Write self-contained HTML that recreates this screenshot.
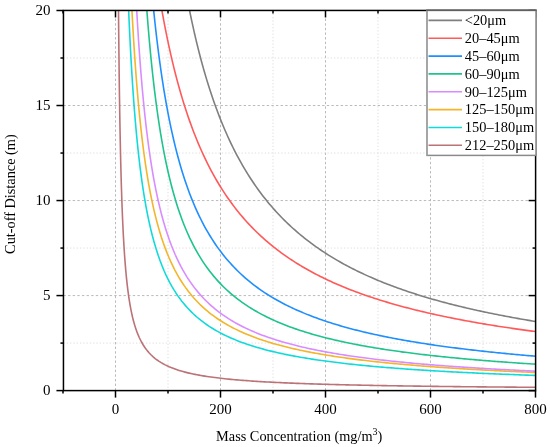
<!DOCTYPE html>
<html><head><meta charset="utf-8"><style>
html,body{margin:0;padding:0;background:#fff;}
svg{display:block;}
text{font-family:"Liberation Serif","Times New Roman",serif;fill:#000;}
</style></head><body>
<svg width="550" height="447" viewBox="0 0 550 447">
<rect width="550" height="447" fill="#fff"/>

<line x1="115.50" y1="390.6" x2="115.50" y2="10.45" stroke="#bababa" stroke-width="1" stroke-dasharray="2.4,2.22"/>
<line x1="220.50" y1="390.6" x2="220.50" y2="10.45" stroke="#bababa" stroke-width="1" stroke-dasharray="2.4,2.22"/>
<line x1="325.50" y1="390.6" x2="325.50" y2="10.45" stroke="#bababa" stroke-width="1" stroke-dasharray="2.4,2.22"/>
<line x1="430.50" y1="390.6" x2="430.50" y2="10.45" stroke="#bababa" stroke-width="1" stroke-dasharray="2.4,2.22"/>
<line x1="168.00" y1="10.45" x2="168.00" y2="390.6" stroke="#dedede" stroke-width="1" stroke-dasharray="1.3,2.0"/>
<line x1="273.00" y1="10.45" x2="273.00" y2="390.6" stroke="#dedede" stroke-width="1" stroke-dasharray="1.3,2.0"/>
<line x1="378.00" y1="10.45" x2="378.00" y2="390.6" stroke="#dedede" stroke-width="1" stroke-dasharray="1.3,2.0"/>
<line x1="483.00" y1="10.45" x2="483.00" y2="390.6" stroke="#dedede" stroke-width="1" stroke-dasharray="1.3,2.0"/>
<line x1="63.45" y1="295.58" x2="535.6" y2="295.58" stroke="#bababa" stroke-width="1" stroke-dasharray="2.4,2.22"/>
<line x1="63.45" y1="200.55" x2="535.6" y2="200.55" stroke="#bababa" stroke-width="1" stroke-dasharray="2.4,2.22"/>
<line x1="63.45" y1="105.52" x2="535.6" y2="105.52" stroke="#bababa" stroke-width="1" stroke-dasharray="2.4,2.22"/>
<line x1="63.45" y1="343.09" x2="535.6" y2="343.09" stroke="#dedede" stroke-width="1" stroke-dasharray="1.3,2.0"/>
<line x1="63.45" y1="248.06" x2="535.6" y2="248.06" stroke="#dedede" stroke-width="1" stroke-dasharray="1.3,2.0"/>
<line x1="63.45" y1="153.04" x2="535.6" y2="153.04" stroke="#dedede" stroke-width="1" stroke-dasharray="1.3,2.0"/>
<line x1="63.45" y1="58.01" x2="535.6" y2="58.01" stroke="#dedede" stroke-width="1" stroke-dasharray="1.3,2.0"/>
<clipPath id="c"><rect x="63.45" y="10.45" width="472.15000000000003" height="380.15000000000003"/></clipPath>
<g clip-path="url(#c)" fill="none" stroke-width="1.6" stroke-linejoin="round">
<path d="M118.40,-0.90 L118.66,28.42 L118.93,53.65 L119.19,75.60 L119.45,94.86 L119.72,111.89 L119.98,127.08 L120.25,140.69 L120.51,152.96 L120.77,164.08 L121.04,174.21 L121.30,183.47 L121.57,191.97 L121.83,199.80 L122.09,207.03 L122.36,213.73 L122.62,219.97 L122.89,225.77 L123.15,231.20 L123.41,236.27 L123.68,241.04 L123.94,245.52 L124.21,249.73 L124.47,253.71 L124.73,257.47 L125.00,261.03 L125.26,264.40 L125.53,267.60 L125.79,270.65 L126.05,273.54 L126.32,276.30 L126.58,278.93 L126.85,281.45 L127.11,283.85 L127.37,286.15 L127.64,288.35 L127.90,290.46 L128.17,292.48 L128.43,294.43 L128.69,296.29 L128.96,298.09 L129.22,299.82 L129.49,301.49 L129.75,303.09 L130.01,304.64 L130.28,306.14 L130.54,307.58 L130.81,308.97 L131.07,310.32 L131.33,311.63 L131.60,312.89 L131.86,314.11 L132.13,315.30 L132.39,316.45 L132.65,317.56 L132.92,318.64 L133.18,319.69 L133.45,320.71 L133.71,321.70 L133.97,322.66 L134.24,323.60 L134.50,324.51 L134.77,325.39 L135.03,326.26 L135.29,327.10 L135.56,327.91 L135.82,328.71 L136.09,329.49 L136.35,330.25 L136.61,330.99 L136.88,331.71 L137.14,332.41 L137.41,333.10 L137.67,333.77 L137.93,334.42 L138.20,335.06 L138.46,335.69 L138.73,336.30 L138.99,336.90 L139.25,337.48 L141.24,341.52 L143.24,344.98 L145.23,347.98 L147.22,350.61 L149.21,352.94 L151.20,355.00 L153.19,356.85 L155.18,358.52 L157.17,360.03 L159.17,361.40 L161.16,362.65 L163.15,363.80 L165.14,364.86 L167.13,365.83 L169.12,366.74 L171.11,367.58 L173.10,368.36 L175.09,369.09 L177.09,369.78 L179.08,370.42 L181.07,371.02 L183.06,371.59 L185.05,372.12 L187.04,372.62 L189.03,373.10 L191.02,373.56 L193.02,373.99 L195.01,374.39 L197.00,374.78 L198.99,375.15 L200.98,375.50 L202.97,375.84 L204.96,376.16 L206.95,376.47 L208.95,376.77 L210.94,377.05 L212.93,377.32 L214.92,377.58 L216.91,377.83 L218.90,378.07 L220.89,378.30 L222.88,378.52 L224.87,378.74 L226.87,378.95 L228.86,379.14 L230.85,379.34 L232.84,379.52 L234.83,379.70 L236.82,379.88 L238.81,380.05 L240.80,380.21 L242.80,380.37 L244.79,380.52 L246.78,380.67 L248.77,380.82 L250.76,380.96 L252.75,381.09 L254.74,381.22 L256.73,381.35 L258.72,381.48 L260.72,381.60 L262.71,381.72 L264.70,381.83 L266.69,381.94 L268.68,382.05 L270.67,382.16 L272.66,382.26 L274.65,382.36 L276.65,382.46 L278.64,382.56 L280.63,382.65 L282.62,382.74 L284.61,382.83 L286.60,382.92 L288.59,383.01 L290.58,383.09 L292.57,383.17 L294.57,383.25 L296.56,383.33 L298.55,383.41 L300.54,383.48 L302.53,383.55 L304.52,383.62 L306.51,383.69 L308.50,383.76 L310.50,383.83 L312.49,383.90 L314.48,383.96 L316.47,384.02 L318.46,384.09 L320.45,384.15 L322.44,384.21 L324.43,384.26 L326.43,384.32 L328.42,384.38 L330.41,384.43 L332.40,384.49 L334.39,384.54 L336.38,384.59 L338.37,384.65 L340.36,384.70 L342.35,384.75 L344.35,384.79 L346.34,384.84 L348.33,384.89 L350.32,384.94 L352.31,384.98 L354.30,385.03 L356.29,385.07 L358.28,385.11 L360.28,385.16 L362.27,385.20 L364.26,385.24 L366.25,385.28 L368.24,385.32 L370.23,385.36 L372.22,385.40 L374.21,385.44 L376.20,385.47 L378.20,385.51 L380.19,385.55 L382.18,385.58 L384.17,385.62 L386.16,385.65 L388.15,385.69 L390.14,385.72 L392.13,385.75 L394.13,385.79 L396.12,385.82 L398.11,385.85 L400.10,385.88 L402.09,385.91 L404.08,385.94 L406.07,385.97 L408.06,386.00 L410.06,386.03 L412.05,386.06 L414.04,386.09 L416.03,386.12 L418.02,386.15 L420.01,386.17 L422.00,386.20 L423.99,386.23 L425.98,386.25 L427.98,386.28 L429.97,386.31 L431.96,386.33 L433.95,386.36 L435.94,386.38 L437.93,386.41 L439.92,386.43 L441.91,386.45 L443.91,386.48 L445.90,386.50 L447.89,386.52 L449.88,386.55 L451.87,386.57 L453.86,386.59 L455.85,386.61 L457.84,386.64 L459.83,386.66 L461.83,386.68 L463.82,386.70 L465.81,386.72 L467.80,386.74 L469.79,386.76 L471.78,386.78 L473.77,386.80 L475.76,386.82 L477.76,386.84 L479.75,386.86 L481.74,386.88 L483.73,386.90 L485.72,386.92 L487.71,386.93 L489.70,386.95 L491.69,386.97 L493.69,386.99 L495.68,387.01 L497.67,387.02 L499.66,387.04 L501.65,387.06 L503.64,387.07 L505.63,387.09 L507.62,387.11 L509.61,387.12 L511.61,387.14 L513.60,387.16 L515.59,387.17 L517.58,387.19 L519.57,387.20 L521.56,387.22 L523.55,387.23 L525.54,387.25 L527.54,387.26 L529.53,387.28 L531.52,387.29 L533.51,387.31 L535.50,387.32" stroke="#bb7377"/>
<path d="M128.17,-0.90 L128.43,5.38 L128.69,11.47 L128.95,17.37 L129.20,23.09 L129.46,28.63 L129.72,34.01 L129.98,39.23 L130.23,44.30 L130.49,49.23 L130.75,54.01 L131.01,58.67 L131.27,63.20 L131.52,67.60 L131.78,71.89 L132.04,76.07 L132.30,80.13 L132.55,84.10 L132.81,87.96 L133.07,91.73 L133.33,95.40 L133.59,98.99 L133.84,102.48 L134.10,105.90 L134.36,109.23 L134.62,112.49 L134.87,115.68 L135.13,118.79 L135.39,121.83 L135.65,124.80 L135.91,127.71 L136.16,130.55 L136.42,133.34 L136.68,136.06 L136.94,138.73 L137.19,141.34 L137.45,143.90 L137.71,146.41 L137.97,148.87 L138.23,151.27 L138.48,153.63 L138.74,155.94 L139.00,158.21 L139.26,160.44 L139.52,162.62 L139.77,164.76 L140.03,166.86 L140.29,168.93 L140.55,170.95 L140.80,172.94 L141.06,174.89 L141.32,176.81 L141.58,178.69 L141.84,180.54 L142.09,182.36 L142.35,184.15 L142.61,185.91 L142.87,187.63 L143.12,189.33 L143.38,191.00 L143.64,192.64 L143.90,194.26 L144.16,195.85 L144.41,197.41 L144.67,198.95 L144.93,200.46 L145.19,201.95 L145.44,203.42 L145.70,204.86 L145.96,206.29 L146.22,207.69 L146.48,209.07 L146.73,210.42 L146.99,211.76 L147.25,213.08 L147.51,214.38 L147.76,215.66 L148.02,216.92 L148.28,218.17 L148.54,219.39 L150.48,228.10 L152.43,235.97 L154.37,243.10 L156.32,249.61 L158.26,255.56 L160.21,261.03 L162.15,266.07 L164.09,270.73 L166.04,275.05 L167.98,279.07 L169.93,282.82 L171.87,286.33 L173.82,289.61 L175.76,292.69 L177.71,295.59 L179.65,298.32 L181.60,300.89 L183.54,303.33 L185.48,305.63 L187.43,307.82 L189.37,309.90 L191.32,311.87 L193.26,313.75 L195.21,315.54 L197.15,317.25 L199.10,318.88 L201.04,320.44 L202.99,321.93 L204.93,323.36 L206.87,324.73 L208.82,326.05 L210.76,327.31 L212.71,328.53 L214.65,329.70 L216.60,330.82 L218.54,331.91 L220.49,332.95 L222.43,333.96 L224.37,334.93 L226.32,335.87 L228.26,336.78 L230.21,337.66 L232.15,338.51 L234.10,339.33 L236.04,340.13 L237.99,340.90 L239.93,341.65 L241.88,342.38 L243.82,343.08 L245.76,343.76 L247.71,344.43 L249.65,345.07 L251.60,345.70 L253.54,346.31 L255.49,346.91 L257.43,347.48 L259.38,348.05 L261.32,348.59 L263.27,349.13 L265.21,349.65 L267.15,350.15 L269.10,350.65 L271.04,351.13 L272.99,351.60 L274.93,352.06 L276.88,352.51 L278.82,352.95 L280.77,353.38 L282.71,353.79 L284.66,354.20 L286.60,354.60 L288.54,354.99 L290.49,355.37 L292.43,355.75 L294.38,356.11 L296.32,356.47 L298.27,356.82 L300.21,357.17 L302.16,357.50 L304.10,357.83 L306.05,358.16 L307.99,358.47 L309.93,358.78 L311.88,359.09 L313.82,359.39 L315.77,359.68 L317.71,359.97 L319.66,360.25 L321.60,360.52 L323.55,360.79 L325.49,361.06 L327.44,361.32 L329.38,361.58 L331.32,361.83 L333.27,362.08 L335.21,362.32 L337.16,362.56 L339.10,362.80 L341.05,363.03 L342.99,363.26 L344.94,363.48 L346.88,363.70 L348.82,363.92 L350.77,364.13 L352.71,364.34 L354.66,364.54 L356.60,364.75 L358.55,364.95 L360.49,365.14 L362.44,365.34 L364.38,365.53 L366.33,365.71 L368.27,365.90 L370.21,366.08 L372.16,366.26 L374.10,366.44 L376.05,366.61 L377.99,366.78 L379.94,366.95 L381.88,367.12 L383.83,367.28 L385.77,367.44 L387.72,367.60 L389.66,367.76 L391.60,367.91 L393.55,368.07 L395.49,368.22 L397.44,368.36 L399.38,368.51 L401.33,368.66 L403.27,368.80 L405.22,368.94 L407.16,369.08 L409.11,369.21 L411.05,369.35 L412.99,369.48 L414.94,369.62 L416.88,369.75 L418.83,369.87 L420.77,370.00 L422.72,370.13 L424.66,370.25 L426.61,370.37 L428.55,370.49 L430.50,370.61 L432.44,370.73 L434.38,370.85 L436.33,370.96 L438.27,371.07 L440.22,371.19 L442.16,371.30 L444.11,371.41 L446.05,371.52 L448.00,371.62 L449.94,371.73 L451.89,371.83 L453.83,371.94 L455.77,372.04 L457.72,372.14 L459.66,372.24 L461.61,372.34 L463.55,372.44 L465.50,372.53 L467.44,372.63 L469.39,372.72 L471.33,372.82 L473.27,372.91 L475.22,373.00 L477.16,373.09 L479.11,373.18 L481.05,373.27 L483.00,373.36 L484.94,373.44 L486.89,373.53 L488.83,373.62 L490.78,373.70 L492.72,373.78 L494.66,373.87 L496.61,373.95 L498.55,374.03 L500.50,374.11 L502.44,374.19 L504.39,374.27 L506.33,374.34 L508.28,374.42 L510.22,374.50 L512.17,374.57 L514.11,374.65 L516.05,374.72 L518.00,374.79 L519.94,374.87 L521.89,374.94 L523.83,375.01 L525.78,375.08 L527.72,375.15 L529.67,375.22 L531.61,375.29 L533.56,375.36 L535.50,375.42" stroke="#12dada"/>
<path d="M131.38,-0.90 L131.63,4.21 L131.89,9.20 L132.14,14.05 L132.40,18.79 L132.66,23.40 L132.91,27.91 L133.17,32.30 L133.42,36.59 L133.68,40.78 L133.94,44.87 L134.19,48.86 L134.45,52.76 L134.70,56.58 L134.96,60.31 L135.21,63.96 L135.47,67.52 L135.73,71.01 L135.98,74.43 L136.24,77.77 L136.49,81.05 L136.75,84.25 L137.00,87.39 L137.26,90.47 L137.52,93.48 L137.77,96.44 L138.03,99.33 L138.28,102.17 L138.54,104.96 L138.79,107.69 L139.05,110.37 L139.31,113.00 L139.56,115.58 L139.82,118.11 L140.07,120.60 L140.33,123.04 L140.59,125.44 L140.84,127.79 L141.10,130.11 L141.35,132.38 L141.61,134.61 L141.86,136.81 L142.12,138.97 L142.38,141.09 L142.63,143.17 L142.89,145.22 L143.14,147.24 L143.40,149.23 L143.65,151.18 L143.91,153.10 L144.17,154.99 L144.42,156.85 L144.68,158.68 L144.93,160.49 L145.19,162.26 L145.45,164.01 L145.70,165.73 L145.96,167.43 L146.21,169.10 L146.47,170.74 L146.72,172.36 L146.98,173.96 L147.24,175.53 L147.49,177.08 L147.75,178.61 L148.00,180.12 L148.26,181.61 L148.51,183.07 L148.77,184.52 L149.03,185.94 L149.28,187.34 L149.54,188.73 L149.79,190.10 L150.05,191.45 L150.30,192.78 L150.56,194.09 L150.82,195.38 L151.07,196.66 L151.33,197.92 L151.58,199.17 L153.51,208.07 L155.44,216.18 L157.37,223.59 L159.30,230.40 L161.23,236.68 L163.16,242.48 L165.09,247.86 L167.02,252.87 L168.95,257.53 L170.88,261.88 L172.81,265.96 L174.73,269.79 L176.66,273.39 L178.59,276.79 L180.52,279.99 L182.45,283.01 L184.38,285.87 L186.31,288.59 L188.24,291.16 L190.17,293.61 L192.10,295.95 L194.03,298.17 L195.96,300.29 L197.89,302.31 L199.81,304.25 L201.74,306.10 L203.67,307.87 L205.60,309.57 L207.53,311.21 L209.46,312.77 L211.39,314.28 L213.32,315.73 L215.25,317.12 L217.18,318.47 L219.11,319.76 L221.04,321.01 L222.97,322.22 L224.89,323.38 L226.82,324.51 L228.75,325.60 L230.68,326.65 L232.61,327.67 L234.54,328.66 L236.47,329.61 L238.40,330.54 L240.33,331.44 L242.26,332.31 L244.19,333.16 L246.12,333.98 L248.04,334.78 L249.97,335.56 L251.90,336.31 L253.83,337.05 L255.76,337.76 L257.69,338.46 L259.62,339.14 L261.55,339.80 L263.48,340.44 L265.41,341.07 L267.34,341.68 L269.27,342.28 L271.20,342.86 L273.12,343.43 L275.05,343.99 L276.98,344.53 L278.91,345.06 L280.84,345.57 L282.77,346.08 L284.70,346.58 L286.63,347.06 L288.56,347.53 L290.49,347.99 L292.42,348.45 L294.35,348.89 L296.28,349.32 L298.20,349.75 L300.13,350.17 L302.06,350.57 L303.99,350.97 L305.92,351.36 L307.85,351.75 L309.78,352.13 L311.71,352.49 L313.64,352.86 L315.57,353.21 L317.50,353.56 L319.43,353.90 L321.36,354.24 L323.28,354.57 L325.21,354.89 L327.14,355.21 L329.07,355.52 L331.00,355.83 L332.93,356.13 L334.86,356.43 L336.79,356.72 L338.72,357.00 L340.65,357.28 L342.58,357.56 L344.51,357.83 L346.44,358.10 L348.36,358.36 L350.29,358.62 L352.22,358.88 L354.15,359.13 L356.08,359.37 L358.01,359.62 L359.94,359.86 L361.87,360.09 L363.80,360.32 L365.73,360.55 L367.66,360.78 L369.59,361.00 L371.52,361.22 L373.44,361.43 L375.37,361.64 L377.30,361.85 L379.23,362.06 L381.16,362.26 L383.09,362.46 L385.02,362.66 L386.95,362.85 L388.88,363.04 L390.81,363.23 L392.74,363.42 L394.67,363.60 L396.60,363.78 L398.52,363.96 L400.45,364.14 L402.38,364.31 L404.31,364.48 L406.24,364.65 L408.17,364.82 L410.10,364.98 L412.03,365.15 L413.96,365.31 L415.89,365.47 L417.82,365.62 L419.75,365.78 L421.68,365.93 L423.60,366.08 L425.53,366.23 L427.46,366.38 L429.39,366.53 L431.32,366.67 L433.25,366.81 L435.18,366.95 L437.11,367.09 L439.04,367.23 L440.97,367.36 L442.90,367.50 L444.83,367.63 L446.76,367.76 L448.68,367.89 L450.61,368.02 L452.54,368.14 L454.47,368.27 L456.40,368.39 L458.33,368.51 L460.26,368.64 L462.19,368.76 L464.12,368.87 L466.05,368.99 L467.98,369.11 L469.91,369.22 L471.84,369.33 L473.76,369.45 L475.69,369.56 L477.62,369.67 L479.55,369.77 L481.48,369.88 L483.41,369.99 L485.34,370.09 L487.27,370.20 L489.20,370.30 L491.13,370.40 L493.06,370.50 L494.99,370.60 L496.92,370.70 L498.84,370.80 L500.77,370.90 L502.70,370.99 L504.63,371.09 L506.56,371.18 L508.49,371.27 L510.42,371.37 L512.35,371.46 L514.28,371.55 L516.21,371.64 L518.14,371.73 L520.07,371.82 L522.00,371.90 L523.92,371.99 L525.85,372.07 L527.78,372.16 L529.71,372.24 L531.64,372.33 L533.57,372.41 L535.50,372.49" stroke="#f3b52a"/>
<path d="M136.11,-0.90 L136.36,3.80 L136.61,8.39 L136.87,12.87 L137.12,17.25 L137.37,21.52 L137.62,25.70 L137.88,29.79 L138.13,33.79 L138.38,37.70 L138.63,41.52 L138.89,45.26 L139.14,48.93 L139.39,52.51 L139.65,56.02 L139.90,59.46 L140.15,62.83 L140.40,66.13 L140.66,69.37 L140.91,72.54 L141.16,75.65 L141.42,78.70 L141.67,81.69 L141.92,84.62 L142.17,87.50 L142.43,90.33 L142.68,93.10 L142.93,95.82 L143.18,98.49 L143.44,101.12 L143.69,103.70 L143.94,106.23 L144.20,108.72 L144.45,111.16 L144.70,113.56 L144.95,115.93 L145.21,118.25 L145.46,120.53 L145.71,122.78 L145.97,124.98 L146.22,127.16 L146.47,129.29 L146.72,131.40 L146.98,133.46 L147.23,135.50 L147.48,137.50 L147.73,139.48 L147.99,141.42 L148.24,143.33 L148.49,145.22 L148.75,147.07 L149.00,148.90 L149.25,150.70 L149.50,152.47 L149.76,154.22 L150.01,155.94 L150.26,157.64 L150.52,159.31 L150.77,160.96 L151.02,162.58 L151.27,164.18 L151.53,165.76 L151.78,167.32 L152.03,168.86 L152.28,170.37 L152.54,171.87 L152.79,173.34 L153.04,174.80 L153.30,176.24 L153.55,177.65 L153.80,179.05 L154.05,180.43 L154.31,181.79 L154.56,183.14 L154.81,184.46 L155.07,185.77 L155.32,187.07 L155.57,188.35 L155.82,189.61 L156.08,190.85 L157.98,199.78 L159.89,207.94 L161.80,215.43 L163.70,222.33 L165.61,228.70 L167.52,234.61 L169.42,240.11 L171.33,245.23 L173.24,250.01 L175.14,254.49 L177.05,258.69 L178.96,262.64 L180.86,266.36 L182.77,269.87 L184.68,273.19 L186.58,276.33 L188.49,279.31 L190.40,282.13 L192.30,284.82 L194.21,287.37 L196.12,289.81 L198.02,292.13 L199.93,294.35 L201.84,296.47 L203.74,298.50 L205.65,300.44 L207.56,302.30 L209.46,304.09 L211.37,305.81 L213.28,307.46 L215.18,309.04 L217.09,310.57 L219.00,312.04 L220.90,313.46 L222.81,314.83 L224.72,316.15 L226.62,317.42 L228.53,318.65 L230.44,319.84 L232.34,320.99 L234.25,322.11 L236.16,323.19 L238.06,324.24 L239.97,325.25 L241.88,326.23 L243.78,327.19 L245.69,328.12 L247.60,329.02 L249.50,329.89 L251.41,330.74 L253.32,331.57 L255.22,332.37 L257.13,333.15 L259.04,333.91 L260.94,334.66 L262.85,335.38 L264.76,336.08 L266.66,336.77 L268.57,337.44 L270.48,338.09 L272.38,338.73 L274.29,339.35 L276.20,339.96 L278.10,340.55 L280.01,341.13 L281.92,341.69 L283.82,342.25 L285.73,342.79 L287.64,343.32 L289.54,343.83 L291.45,344.34 L293.36,344.83 L295.26,345.32 L297.17,345.79 L299.08,346.26 L300.98,346.71 L302.89,347.16 L304.80,347.59 L306.70,348.02 L308.61,348.44 L310.52,348.85 L312.42,349.26 L314.33,349.65 L316.24,350.04 L318.14,350.42 L320.05,350.80 L321.96,351.16 L323.86,351.52 L325.77,351.88 L327.68,352.22 L329.58,352.56 L331.49,352.90 L333.40,353.23 L335.30,353.55 L337.21,353.87 L339.12,354.18 L341.02,354.49 L342.93,354.79 L344.83,355.09 L346.74,355.38 L348.65,355.67 L350.55,355.95 L352.46,356.23 L354.37,356.50 L356.27,356.77 L358.18,357.04 L360.09,357.30 L361.99,357.56 L363.90,357.81 L365.81,358.06 L367.71,358.30 L369.62,358.55 L371.53,358.78 L373.43,359.02 L375.34,359.25 L377.25,359.48 L379.15,359.70 L381.06,359.92 L382.97,360.14 L384.87,360.36 L386.78,360.57 L388.69,360.78 L390.59,360.99 L392.50,361.19 L394.41,361.39 L396.31,361.59 L398.22,361.78 L400.13,361.98 L402.03,362.17 L403.94,362.35 L405.85,362.54 L407.75,362.72 L409.66,362.90 L411.57,363.08 L413.47,363.25 L415.38,363.43 L417.29,363.60 L419.19,363.77 L421.10,363.94 L423.01,364.10 L424.91,364.26 L426.82,364.42 L428.73,364.58 L430.63,364.74 L432.54,364.90 L434.45,365.05 L436.35,365.20 L438.26,365.35 L440.17,365.50 L442.07,365.64 L443.98,365.79 L445.89,365.93 L447.79,366.07 L449.70,366.21 L451.61,366.35 L453.51,366.49 L455.42,366.62 L457.33,366.76 L459.23,366.89 L461.14,367.02 L463.05,367.15 L464.95,367.28 L466.86,367.40 L468.77,367.53 L470.67,367.65 L472.58,367.77 L474.49,367.89 L476.39,368.01 L478.30,368.13 L480.21,368.25 L482.11,368.36 L484.02,368.48 L485.93,368.59 L487.83,368.71 L489.74,368.82 L491.65,368.93 L493.55,369.04 L495.46,369.14 L497.37,369.25 L499.27,369.36 L501.18,369.46 L503.09,369.56 L504.99,369.67 L506.90,369.77 L508.81,369.87 L510.71,369.97 L512.62,370.07 L514.53,370.17 L516.43,370.26 L518.34,370.36 L520.25,370.45 L522.15,370.55 L524.06,370.64 L525.97,370.73 L527.87,370.83 L529.78,370.92 L531.69,371.01 L533.59,371.10 L535.50,371.18" stroke="#d98cff"/>
<path d="M146.04,-0.90 L146.29,2.53 L146.53,5.90 L146.78,9.21 L147.03,12.47 L147.27,15.67 L147.52,18.82 L147.77,21.91 L148.01,24.95 L148.26,27.95 L148.51,30.89 L148.75,33.79 L149.00,36.64 L149.25,39.45 L149.49,42.21 L149.74,44.93 L149.99,47.61 L150.23,50.24 L150.48,52.84 L150.73,55.39 L150.97,57.91 L151.22,60.39 L151.46,62.83 L151.71,65.24 L151.96,67.61 L152.20,69.95 L152.45,72.25 L152.70,74.52 L152.94,76.76 L153.19,78.97 L153.44,81.15 L153.68,83.29 L153.93,85.41 L154.18,87.50 L154.42,89.56 L154.67,91.59 L154.92,93.59 L155.16,95.57 L155.41,97.52 L155.66,99.45 L155.90,101.35 L156.15,103.22 L156.39,105.08 L156.64,106.90 L156.89,108.71 L157.13,110.49 L157.38,112.25 L157.63,113.99 L157.87,115.70 L158.12,117.40 L158.37,119.07 L158.61,120.73 L158.86,122.36 L159.11,123.97 L159.35,125.57 L159.60,127.14 L159.85,128.70 L160.09,130.24 L160.34,131.76 L160.58,133.26 L160.83,134.75 L161.08,136.21 L161.32,137.67 L161.57,139.10 L161.82,140.52 L162.06,141.92 L162.31,143.31 L162.56,144.68 L162.80,146.04 L163.05,147.38 L163.30,148.71 L163.54,150.02 L163.79,151.32 L164.04,152.60 L164.28,153.87 L164.53,155.13 L164.78,156.38 L165.02,157.61 L165.27,158.82 L165.51,160.03 L167.37,168.73 L169.23,176.80 L171.09,184.30 L172.95,191.29 L174.81,197.83 L176.67,203.95 L178.53,209.69 L180.39,215.08 L182.25,220.17 L184.11,224.97 L185.97,229.50 L187.83,233.79 L189.68,237.86 L191.54,241.72 L193.40,245.40 L195.26,248.89 L197.12,252.22 L198.98,255.40 L200.84,258.43 L202.70,261.33 L204.56,264.11 L206.42,266.77 L208.28,269.32 L210.14,271.76 L212.00,274.11 L213.85,276.37 L215.71,278.54 L217.57,280.63 L219.43,282.64 L221.29,284.58 L223.15,286.46 L225.01,288.26 L226.87,290.01 L228.73,291.70 L230.59,293.33 L232.45,294.90 L234.31,296.43 L236.17,297.91 L238.02,299.34 L239.88,300.73 L241.74,302.08 L243.60,303.39 L245.46,304.66 L247.32,305.89 L249.18,307.09 L251.04,308.25 L252.90,309.38 L254.76,310.49 L256.62,311.56 L258.48,312.60 L260.34,313.62 L262.19,314.61 L264.05,315.57 L265.91,316.51 L267.77,317.43 L269.63,318.32 L271.49,319.20 L273.35,320.05 L275.21,320.88 L277.07,321.69 L278.93,322.48 L280.79,323.26 L282.65,324.02 L284.50,324.76 L286.36,325.48 L288.22,326.19 L290.08,326.88 L291.94,327.56 L293.80,328.23 L295.66,328.88 L297.52,329.51 L299.38,330.14 L301.24,330.75 L303.10,331.35 L304.96,331.93 L306.82,332.51 L308.67,333.07 L310.53,333.63 L312.39,334.17 L314.25,334.70 L316.11,335.22 L317.97,335.73 L319.83,336.24 L321.69,336.73 L323.55,337.22 L325.41,337.69 L327.27,338.16 L329.13,338.62 L330.99,339.07 L332.84,339.51 L334.70,339.95 L336.56,340.38 L338.42,340.80 L340.28,341.21 L342.14,341.62 L344.00,342.02 L345.86,342.42 L347.72,342.80 L349.58,343.19 L351.44,343.56 L353.30,343.93 L355.16,344.29 L357.01,344.65 L358.87,345.00 L360.73,345.35 L362.59,345.69 L364.45,346.03 L366.31,346.36 L368.17,346.69 L370.03,347.01 L371.89,347.33 L373.75,347.64 L375.61,347.95 L377.47,348.25 L379.33,348.55 L381.18,348.85 L383.04,349.14 L384.90,349.42 L386.76,349.71 L388.62,349.99 L390.48,350.26 L392.34,350.53 L394.20,350.80 L396.06,351.06 L397.92,351.32 L399.78,351.58 L401.64,351.84 L403.50,352.09 L405.35,352.33 L407.21,352.58 L409.07,352.82 L410.93,353.06 L412.79,353.29 L414.65,353.52 L416.51,353.75 L418.37,353.98 L420.23,354.20 L422.09,354.42 L423.95,354.64 L425.81,354.86 L427.67,355.07 L429.52,355.28 L431.38,355.49 L433.24,355.69 L435.10,355.90 L436.96,356.10 L438.82,356.29 L440.68,356.49 L442.54,356.68 L444.40,356.88 L446.26,357.07 L448.12,357.25 L449.98,357.44 L451.83,357.62 L453.69,357.80 L455.55,357.98 L457.41,358.16 L459.27,358.33 L461.13,358.51 L462.99,358.68 L464.85,358.85 L466.71,359.01 L468.57,359.18 L470.43,359.35 L472.29,359.51 L474.15,359.67 L476.00,359.83 L477.86,359.98 L479.72,360.14 L481.58,360.29 L483.44,360.45 L485.30,360.60 L487.16,360.75 L489.02,360.90 L490.88,361.04 L492.74,361.19 L494.60,361.33 L496.46,361.47 L498.32,361.61 L500.17,361.75 L502.03,361.89 L503.89,362.03 L505.75,362.17 L507.61,362.30 L509.47,362.43 L511.33,362.56 L513.19,362.69 L515.05,362.82 L516.91,362.95 L518.77,363.08 L520.63,363.20 L522.49,363.33 L524.34,363.45 L526.20,363.57 L528.06,363.70 L529.92,363.82 L531.78,363.93 L533.64,364.05 L535.50,364.17" stroke="#1ec48c"/>
<path d="M152.55,-0.90 L152.79,1.60 L153.04,4.07 L153.28,6.51 L153.52,8.92 L153.76,11.30 L154.01,13.65 L154.25,15.97 L154.49,18.27 L154.73,20.53 L154.97,22.77 L155.22,24.98 L155.46,27.17 L155.70,29.32 L155.94,31.46 L156.19,33.57 L156.43,35.65 L156.67,37.71 L156.91,39.75 L157.16,41.76 L157.40,43.75 L157.64,45.71 L157.88,47.66 L158.13,49.58 L158.37,51.49 L158.61,53.37 L158.85,55.23 L159.09,57.07 L159.34,58.89 L159.58,60.69 L159.82,62.47 L160.06,64.23 L160.31,65.97 L160.55,67.70 L160.79,69.40 L161.03,71.09 L161.28,72.76 L161.52,74.41 L161.76,76.05 L162.00,77.67 L162.25,79.27 L162.49,80.86 L162.73,82.43 L162.97,83.99 L163.22,85.52 L163.46,87.05 L163.70,88.56 L163.94,90.05 L164.18,91.53 L164.43,93.00 L164.67,94.45 L164.91,95.88 L165.15,97.31 L165.40,98.71 L165.64,100.11 L165.88,101.49 L166.12,102.86 L166.37,104.22 L166.61,105.56 L166.85,106.89 L167.09,108.21 L167.34,109.52 L167.58,110.81 L167.82,112.10 L168.06,113.37 L168.31,114.63 L168.55,115.88 L168.79,117.11 L169.03,118.34 L169.27,119.55 L169.52,120.76 L169.76,121.95 L170.00,123.14 L170.24,124.31 L170.49,125.47 L170.73,126.62 L170.97,127.77 L171.21,128.90 L171.46,130.02 L171.70,131.14 L173.53,139.24 L175.35,146.85 L177.18,154.02 L179.01,160.78 L180.84,167.17 L182.67,173.21 L184.50,178.93 L186.32,184.36 L188.15,189.53 L189.98,194.44 L191.81,199.11 L193.64,203.57 L195.46,207.83 L197.29,211.90 L199.12,215.79 L200.95,219.52 L202.78,223.09 L204.61,226.52 L206.43,229.81 L208.26,232.97 L210.09,236.01 L211.92,238.94 L213.75,241.75 L215.57,244.47 L217.40,247.09 L219.23,249.61 L221.06,252.05 L222.89,254.41 L224.71,256.69 L226.54,258.90 L228.37,261.03 L230.20,263.09 L232.03,265.10 L233.86,267.04 L235.68,268.92 L237.51,270.74 L239.34,272.51 L241.17,274.23 L243.00,275.91 L244.82,277.53 L246.65,279.11 L248.48,280.65 L250.31,282.14 L252.14,283.59 L253.97,285.01 L255.79,286.39 L257.62,287.74 L259.45,289.05 L261.28,290.32 L263.11,291.57 L264.93,292.79 L266.76,293.97 L268.59,295.13 L270.42,296.26 L272.25,297.37 L274.07,298.45 L275.90,299.50 L277.73,300.53 L279.56,301.54 L281.39,302.53 L283.22,303.49 L285.04,304.44 L286.87,305.36 L288.70,306.27 L290.53,307.15 L292.36,308.02 L294.18,308.87 L296.01,309.70 L297.84,310.52 L299.67,311.32 L301.50,312.10 L303.33,312.87 L305.15,313.63 L306.98,314.37 L308.81,315.09 L310.64,315.81 L312.47,316.51 L314.29,317.19 L316.12,317.87 L317.95,318.53 L319.78,319.18 L321.61,319.82 L323.43,320.45 L325.26,321.06 L327.09,321.67 L328.92,322.26 L330.75,322.85 L332.58,323.42 L334.40,323.99 L336.23,324.55 L338.06,325.10 L339.89,325.63 L341.72,326.16 L343.54,326.69 L345.37,327.20 L347.20,327.70 L349.03,328.20 L350.86,328.69 L352.69,329.17 L354.51,329.65 L356.34,330.12 L358.17,330.58 L360.00,331.03 L361.83,331.48 L363.65,331.92 L365.48,332.35 L367.31,332.78 L369.14,333.20 L370.97,333.62 L372.79,334.03 L374.62,334.43 L376.45,334.83 L378.28,335.22 L380.11,335.61 L381.94,335.99 L383.76,336.37 L385.59,336.74 L387.42,337.11 L389.25,337.47 L391.08,337.82 L392.90,338.18 L394.73,338.52 L396.56,338.87 L398.39,339.21 L400.22,339.54 L402.05,339.87 L403.87,340.20 L405.70,340.52 L407.53,340.84 L409.36,341.15 L411.19,341.46 L413.01,341.77 L414.84,342.07 L416.67,342.37 L418.50,342.66 L420.33,342.96 L422.15,343.24 L423.98,343.53 L425.81,343.81 L427.64,344.09 L429.47,344.36 L431.30,344.64 L433.12,344.90 L434.95,345.17 L436.78,345.43 L438.61,345.69 L440.44,345.95 L442.26,346.20 L444.09,346.45 L445.92,346.70 L447.75,346.95 L449.58,347.19 L451.41,347.43 L453.23,347.67 L455.06,347.90 L456.89,348.14 L458.72,348.37 L460.55,348.59 L462.37,348.82 L464.20,349.04 L466.03,349.26 L467.86,349.48 L469.69,349.70 L471.51,349.91 L473.34,350.12 L475.17,350.33 L477.00,350.54 L478.83,350.75 L480.66,350.95 L482.48,351.15 L484.31,351.35 L486.14,351.55 L487.97,351.74 L489.80,351.94 L491.62,352.13 L493.45,352.32 L495.28,352.50 L497.11,352.69 L498.94,352.88 L500.77,353.06 L502.59,353.24 L504.42,353.42 L506.25,353.60 L508.08,353.77 L509.91,353.95 L511.73,354.12 L513.56,354.29 L515.39,354.46 L517.22,354.63 L519.05,354.79 L520.87,354.96 L522.70,355.12 L524.53,355.28 L526.36,355.44 L528.19,355.60 L530.02,355.76 L531.84,355.92 L533.67,356.07 L535.50,356.23" stroke="#1f8fff"/>
<path d="M159.97,-0.90 L160.21,0.51 L160.44,1.92 L160.68,3.31 L160.92,4.70 L161.16,6.07 L161.39,7.44 L161.63,8.79 L161.87,10.14 L162.11,11.47 L162.35,12.80 L162.58,14.12 L162.82,15.43 L163.06,16.72 L163.30,18.02 L163.53,19.30 L163.77,20.57 L164.01,21.83 L164.25,23.09 L164.48,24.33 L164.72,25.57 L164.96,26.80 L165.20,28.02 L165.44,29.24 L165.67,30.44 L165.91,31.64 L166.15,32.83 L166.39,34.01 L166.62,35.18 L166.86,36.35 L167.10,37.51 L167.34,38.66 L167.57,39.80 L167.81,40.94 L168.05,42.07 L168.29,43.19 L168.53,44.30 L168.76,45.41 L169.00,46.51 L169.24,47.60 L169.48,48.69 L169.71,49.76 L169.95,50.84 L170.19,51.90 L170.43,52.96 L170.66,54.01 L170.90,55.06 L171.14,56.10 L171.38,57.13 L171.61,58.15 L171.85,59.17 L172.09,60.19 L172.33,61.19 L172.57,62.20 L172.80,63.19 L173.04,64.18 L173.28,65.16 L173.52,66.14 L173.75,67.11 L173.99,68.08 L174.23,69.04 L174.47,69.99 L174.70,70.94 L174.94,71.88 L175.18,72.82 L175.42,73.75 L175.66,74.68 L175.89,75.60 L176.13,76.51 L176.37,77.42 L176.61,78.33 L176.84,79.23 L177.08,80.12 L177.32,81.01 L177.56,81.89 L177.79,82.77 L178.03,83.65 L178.27,84.52 L178.51,85.38 L178.75,86.24 L180.54,92.57 L182.33,98.64 L184.12,104.46 L185.92,110.06 L187.71,115.44 L189.50,120.62 L191.29,125.60 L193.09,130.41 L194.88,135.04 L196.67,139.51 L198.47,143.82 L200.26,147.99 L202.05,152.02 L203.84,155.92 L205.64,159.69 L207.43,163.34 L209.22,166.88 L211.01,170.31 L212.81,173.63 L214.60,176.86 L216.39,179.99 L218.19,183.02 L219.98,185.98 L221.77,188.85 L223.56,191.63 L225.36,194.35 L227.15,196.99 L228.94,199.55 L230.73,202.06 L232.53,204.49 L234.32,206.86 L236.11,209.18 L237.91,211.43 L239.70,213.63 L241.49,215.78 L243.28,217.87 L245.08,219.92 L246.87,221.91 L248.66,223.86 L250.45,225.77 L252.25,227.63 L254.04,229.45 L255.83,231.23 L257.63,232.97 L259.42,234.67 L261.21,236.33 L263.00,237.96 L264.80,239.56 L266.59,241.12 L268.38,242.65 L270.17,244.15 L271.97,245.62 L273.76,247.06 L275.55,248.47 L277.35,249.85 L279.14,251.21 L280.93,252.54 L282.72,253.84 L284.52,255.12 L286.31,256.38 L288.10,257.61 L289.90,258.82 L291.69,260.01 L293.48,261.18 L295.27,262.32 L297.07,263.45 L298.86,264.55 L300.65,265.64 L302.44,266.71 L304.24,267.76 L306.03,268.79 L307.82,269.80 L309.62,270.80 L311.41,271.78 L313.20,272.75 L314.99,273.70 L316.79,274.63 L318.58,275.55 L320.37,276.45 L322.16,277.34 L323.96,278.22 L325.75,279.08 L327.54,279.93 L329.34,280.77 L331.13,281.59 L332.92,282.40 L334.71,283.20 L336.51,283.99 L338.30,284.76 L340.09,285.53 L341.88,286.28 L343.68,287.02 L345.47,287.75 L347.26,288.48 L349.06,289.19 L350.85,289.89 L352.64,290.58 L354.43,291.26 L356.23,291.93 L358.02,292.60 L359.81,293.25 L361.60,293.90 L363.40,294.54 L365.19,295.16 L366.98,295.78 L368.78,296.40 L370.57,297.00 L372.36,297.60 L374.15,298.19 L375.95,298.77 L377.74,299.34 L379.53,299.91 L381.32,300.47 L383.12,301.02 L384.91,301.57 L386.70,302.11 L388.50,302.64 L390.29,303.16 L392.08,303.68 L393.87,304.20 L395.67,304.70 L397.46,305.21 L399.25,305.70 L401.04,306.19 L402.84,306.68 L404.63,307.15 L406.42,307.63 L408.22,308.09 L410.01,308.56 L411.80,309.01 L413.59,309.47 L415.39,309.91 L417.18,310.35 L418.97,310.79 L420.76,311.22 L422.56,311.65 L424.35,312.07 L426.14,312.49 L427.94,312.91 L429.73,313.31 L431.52,313.72 L433.31,314.12 L435.11,314.52 L436.90,314.91 L438.69,315.30 L440.48,315.68 L442.28,316.06 L444.07,316.44 L445.86,316.81 L447.66,317.18 L449.45,317.54 L451.24,317.90 L453.03,318.26 L454.83,318.62 L456.62,318.97 L458.41,319.31 L460.21,319.66 L462.00,320.00 L463.79,320.34 L465.58,320.67 L467.38,321.00 L469.17,321.33 L470.96,321.65 L472.75,321.97 L474.55,322.29 L476.34,322.61 L478.13,322.92 L479.93,323.23 L481.72,323.53 L483.51,323.84 L485.30,324.14 L487.10,324.44 L488.89,324.73 L490.68,325.03 L492.47,325.32 L494.27,325.60 L496.06,325.89 L497.85,326.17 L499.65,326.45 L501.44,326.73 L503.23,327.00 L505.02,327.27 L506.82,327.55 L508.61,327.81 L510.40,328.08 L512.19,328.34 L513.99,328.60 L515.78,328.86 L517.57,329.12 L519.37,329.37 L521.16,329.63 L522.95,329.88 L524.74,330.12 L526.54,330.37 L528.33,330.61 L530.12,330.86 L531.91,331.10 L533.71,331.33 L535.50,331.57" stroke="#ff5a5a"/>
<path d="M187.32,-0.90 L187.54,0.25 L187.76,1.39 L187.98,2.53 L188.20,3.66 L188.42,4.78 L188.64,5.90 L188.86,7.01 L189.08,8.11 L189.30,9.21 L189.52,10.30 L189.74,11.38 L189.96,12.46 L190.19,13.53 L190.41,14.60 L190.63,15.66 L190.85,16.72 L191.07,17.76 L191.29,18.81 L191.51,19.84 L191.73,20.88 L191.95,21.90 L192.17,22.92 L192.39,23.94 L192.61,24.94 L192.83,25.95 L193.05,26.94 L193.27,27.94 L193.49,28.92 L193.71,29.91 L193.93,30.88 L194.15,31.85 L194.37,32.82 L194.59,33.78 L194.81,34.73 L195.03,35.68 L195.25,36.63 L195.47,37.57 L195.69,38.50 L195.91,39.43 L196.14,40.36 L196.36,41.28 L196.58,42.20 L196.80,43.11 L197.02,44.01 L197.24,44.91 L197.46,45.81 L197.68,46.70 L197.90,47.59 L198.12,48.47 L198.34,49.35 L198.56,50.23 L198.78,51.10 L199.00,51.96 L199.22,52.82 L199.44,53.68 L199.66,54.53 L199.88,55.38 L200.10,56.22 L200.32,57.06 L200.54,57.89 L200.76,58.73 L200.98,59.55 L201.20,60.37 L201.42,61.19 L201.64,62.01 L201.86,62.82 L202.09,63.62 L202.31,64.43 L202.53,65.22 L202.75,66.02 L202.97,66.81 L203.19,67.60 L203.41,68.38 L203.63,69.16 L203.85,69.94 L204.07,70.71 L204.29,71.48 L204.51,72.24 L204.73,73.00 L206.39,78.62 L208.05,84.05 L209.72,89.29 L211.38,94.36 L213.04,99.26 L214.70,104.00 L216.36,108.59 L218.03,113.03 L219.69,117.34 L221.35,121.51 L223.01,125.56 L224.68,129.49 L226.34,133.30 L228.00,137.01 L229.66,140.60 L231.32,144.10 L232.99,147.51 L234.65,150.81 L236.31,154.04 L237.97,157.17 L239.63,160.22 L241.30,163.20 L242.96,166.10 L244.62,168.92 L246.28,171.68 L247.95,174.37 L249.61,176.99 L251.27,179.55 L252.93,182.05 L254.59,184.49 L256.26,186.88 L257.92,189.21 L259.58,191.48 L261.24,193.71 L262.91,195.89 L264.57,198.02 L266.23,200.10 L267.89,202.14 L269.55,204.14 L271.22,206.09 L272.88,208.00 L274.54,209.88 L276.20,211.71 L277.86,213.51 L279.53,215.28 L281.19,217.01 L282.85,218.70 L284.51,220.36 L286.18,222.00 L287.84,223.60 L289.50,225.16 L291.16,226.71 L292.82,228.22 L294.49,229.70 L296.15,231.16 L297.81,232.59 L299.47,234.00 L301.13,235.38 L302.80,236.74 L304.46,238.07 L306.12,239.38 L307.78,240.67 L309.45,241.94 L311.11,243.18 L312.77,244.41 L314.43,245.61 L316.09,246.80 L317.76,247.96 L319.42,249.11 L321.08,250.24 L322.74,251.35 L324.41,252.44 L326.07,253.52 L327.73,254.58 L329.39,255.62 L331.05,256.65 L332.72,257.66 L334.38,258.66 L336.04,259.64 L337.70,260.61 L339.36,261.56 L341.03,262.50 L342.69,263.43 L344.35,264.34 L346.01,265.24 L347.68,266.13 L349.34,267.00 L351.00,267.87 L352.66,268.72 L354.32,269.56 L355.99,270.38 L357.65,271.20 L359.31,272.00 L360.97,272.80 L362.63,273.58 L364.30,274.36 L365.96,275.12 L367.62,275.87 L369.28,276.62 L370.95,277.35 L372.61,278.08 L374.27,278.79 L375.93,279.50 L377.59,280.20 L379.26,280.88 L380.92,281.57 L382.58,282.24 L384.24,282.90 L385.91,283.56 L387.57,284.20 L389.23,284.85 L390.89,285.48 L392.55,286.10 L394.22,286.72 L395.88,287.33 L397.54,287.93 L399.20,288.53 L400.86,289.12 L402.53,289.70 L404.19,290.28 L405.85,290.85 L407.51,291.41 L409.18,291.97 L410.84,292.52 L412.50,293.06 L414.16,293.60 L415.82,294.13 L417.49,294.66 L419.15,295.18 L420.81,295.70 L422.47,296.21 L424.14,296.71 L425.80,297.21 L427.46,297.70 L429.12,298.19 L430.78,298.67 L432.45,299.15 L434.11,299.63 L435.77,300.10 L437.43,300.56 L439.09,301.02 L440.76,301.47 L442.42,301.92 L444.08,302.37 L445.74,302.81 L447.41,303.25 L449.07,303.68 L450.73,304.11 L452.39,304.53 L454.05,304.95 L455.72,305.37 L457.38,305.78 L459.04,306.18 L460.70,306.59 L462.36,306.99 L464.03,307.38 L465.69,307.78 L467.35,308.17 L469.01,308.55 L470.68,308.93 L472.34,309.31 L474.00,309.69 L475.66,310.06 L477.32,310.42 L478.99,310.79 L480.65,311.15 L482.31,311.51 L483.97,311.86 L485.64,312.21 L487.30,312.56 L488.96,312.91 L490.62,313.25 L492.28,313.59 L493.95,313.93 L495.61,314.26 L497.27,314.59 L498.93,314.92 L500.59,315.24 L502.26,315.56 L503.92,315.88 L505.58,316.20 L507.24,316.51 L508.91,316.83 L510.57,317.14 L512.23,317.44 L513.89,317.75 L515.55,318.05 L517.22,318.35 L518.88,318.64 L520.54,318.94 L522.20,319.23 L523.86,319.52 L525.53,319.80 L527.19,320.09 L528.85,320.37 L530.51,320.65 L532.18,320.93 L533.84,321.20 L535.50,321.48" stroke="#7f7f7f"/>
</g>
<g stroke="#000" stroke-width="1.5" fill="none">
<rect x="63.45" y="10.45" width="472.15000000000003" height="380.15000000000003"/>
<line x1="63.00" y1="390.6" x2="63.00" y2="393.6"/>
<line x1="63.00" y1="10.45" x2="63.00" y2="13.45"/>
<line x1="115.50" y1="390.6" x2="115.50" y2="397.6"/>
<line x1="115.50" y1="10.45" x2="115.50" y2="17.45"/>
<line x1="168.00" y1="390.6" x2="168.00" y2="393.6"/>
<line x1="168.00" y1="10.45" x2="168.00" y2="13.45"/>
<line x1="220.50" y1="390.6" x2="220.50" y2="397.6"/>
<line x1="220.50" y1="10.45" x2="220.50" y2="17.45"/>
<line x1="273.00" y1="390.6" x2="273.00" y2="393.6"/>
<line x1="273.00" y1="10.45" x2="273.00" y2="13.45"/>
<line x1="325.50" y1="390.6" x2="325.50" y2="397.6"/>
<line x1="325.50" y1="10.45" x2="325.50" y2="17.45"/>
<line x1="378.00" y1="390.6" x2="378.00" y2="393.6"/>
<line x1="378.00" y1="10.45" x2="378.00" y2="13.45"/>
<line x1="430.50" y1="390.6" x2="430.50" y2="397.6"/>
<line x1="430.50" y1="10.45" x2="430.50" y2="17.45"/>
<line x1="483.00" y1="390.6" x2="483.00" y2="393.6"/>
<line x1="483.00" y1="10.45" x2="483.00" y2="13.45"/>
<line x1="535.50" y1="390.6" x2="535.50" y2="397.6"/>
<line x1="535.50" y1="10.45" x2="535.50" y2="17.45"/>
<line x1="63.45" y1="390.60" x2="56.45" y2="390.60"/>
<line x1="535.6" y1="390.60" x2="528.6" y2="390.60"/>
<line x1="63.45" y1="343.09" x2="60.45" y2="343.09"/>
<line x1="535.6" y1="343.09" x2="532.6" y2="343.09"/>
<line x1="63.45" y1="295.58" x2="56.45" y2="295.58"/>
<line x1="535.6" y1="295.58" x2="528.6" y2="295.58"/>
<line x1="63.45" y1="248.06" x2="60.45" y2="248.06"/>
<line x1="535.6" y1="248.06" x2="532.6" y2="248.06"/>
<line x1="63.45" y1="200.55" x2="56.45" y2="200.55"/>
<line x1="535.6" y1="200.55" x2="528.6" y2="200.55"/>
<line x1="63.45" y1="153.04" x2="60.45" y2="153.04"/>
<line x1="535.6" y1="153.04" x2="532.6" y2="153.04"/>
<line x1="63.45" y1="105.52" x2="56.45" y2="105.52"/>
<line x1="535.6" y1="105.52" x2="528.6" y2="105.52"/>
<line x1="63.45" y1="58.01" x2="60.45" y2="58.01"/>
<line x1="535.6" y1="58.01" x2="532.6" y2="58.01"/>
<line x1="63.45" y1="10.50" x2="56.45" y2="10.50"/>
<line x1="535.6" y1="10.50" x2="528.6" y2="10.50"/>
</g>
<text x="50.5" y="394.80" font-size="15" text-anchor="end">0</text>
<text x="50.5" y="299.78" font-size="15" text-anchor="end">5</text>
<text x="50.5" y="204.75" font-size="15" text-anchor="end">10</text>
<text x="50.5" y="109.72" font-size="15" text-anchor="end">15</text>
<text x="50.5" y="14.70" font-size="15" text-anchor="end">20</text>
<text x="115.50" y="414.3" font-size="15" text-anchor="middle">0</text>
<text x="220.50" y="414.3" font-size="15" text-anchor="middle">200</text>
<text x="325.50" y="414.3" font-size="15" text-anchor="middle">400</text>
<text x="430.50" y="414.3" font-size="15" text-anchor="middle">600</text>
<text x="535.50" y="414.3" font-size="15" text-anchor="middle">800</text>
<text x="216.1" y="440.7" font-size="14.3">Mass Concentration (mg/m<tspan font-size="10" dy="-5.4">3</tspan><tspan dy="5.4">)</tspan></text>
<text transform="translate(15.1,253.9) rotate(-90)" font-size="14.3">Cut-off Distance (m)</text>
<rect x="427" y="10.45" width="109.0" height="144.95000000000002" fill="#fff" stroke="#8a8a8a" stroke-width="1.5"/>
<line x1="427" y1="10.45" x2="427" y2="155.4" stroke="#a6a6a6" stroke-width="1.6"/>
<line x1="426.25" y1="10.2" x2="536.75" y2="10.2" stroke="#606060" stroke-width="1.5"/>
<line x1="428.5" y1="20.40" x2="462" y2="20.40" stroke="#7f7f7f" stroke-width="1.6"/>
<text x="464.8" y="25.25" font-size="14.4">&lt;20μm</text>
<line x1="428.5" y1="38.24" x2="462" y2="38.24" stroke="#ff5a5a" stroke-width="1.6"/>
<text x="464.8" y="43.09" font-size="14.4">20–45μm</text>
<line x1="428.5" y1="56.08" x2="462" y2="56.08" stroke="#1f8fff" stroke-width="1.6"/>
<text x="464.8" y="60.93" font-size="14.4">45–60μm</text>
<line x1="428.5" y1="73.92" x2="462" y2="73.92" stroke="#1ec48c" stroke-width="1.6"/>
<text x="464.8" y="78.77" font-size="14.4">60–90μm</text>
<line x1="428.5" y1="91.76" x2="462" y2="91.76" stroke="#d98cff" stroke-width="1.6"/>
<text x="464.8" y="96.61" font-size="14.4">90–125μm</text>
<line x1="428.5" y1="109.60" x2="462" y2="109.60" stroke="#f3b52a" stroke-width="1.6"/>
<text x="464.8" y="114.45" font-size="14.4">125–150μm</text>
<line x1="428.5" y1="127.44" x2="462" y2="127.44" stroke="#12dada" stroke-width="1.6"/>
<text x="464.8" y="132.29" font-size="14.4">150–180μm</text>
<line x1="428.5" y1="145.28" x2="462" y2="145.28" stroke="#bb7377" stroke-width="1.6"/>
<text x="464.8" y="150.13" font-size="14.4">212–250μm</text>
</svg></body></html>
